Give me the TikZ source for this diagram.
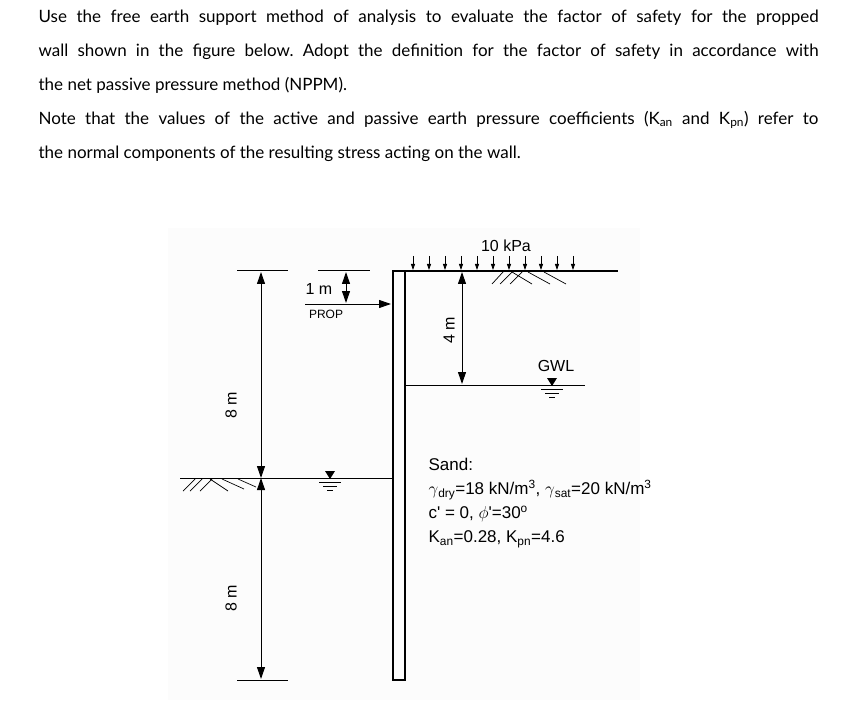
\documentclass[tikz,border=0pt]{standalone}
\usepackage{fontspec}
\setmainfont{Lato}
\newfontfamily\arial{Liberation Sans}
\usetikzlibrary{arrows.meta}
\frenchspacing
\begin{document}
\begin{tikzpicture}[x=1pt,y=-1pt,line width=1.2pt,
  dim/.style={line width=1pt,{Triangle[length=12pt,width=8pt]}-{Triangle[length=12pt,width=8pt]}},
  onearrow/.style={line width=1pt,-{Triangle[length=12pt,width=8pt]}},
  load/.style={line width=0.8pt,-{Triangle[length=6pt,width=4pt]}},
  lbl/.style={font=\arial\fontsize{16}{18}\selectfont,inner sep=0pt},
  hatch/.style={line width=0.7pt}]
\useasboundingbox (0,0) rectangle (867,727);
\fill[black!1] (168,228) rectangle (640,700);
\node[anchor=north west,inner sep=0pt,text width=780pt,align=justify,font=\fontsize{17}{34}\selectfont] (txt) at (38,9)
{Use the free earth support method of analysis to evaluate the factor of safety for the propped\linebreak
wall shown in the figure below. Adopt the definition for the factor of safety in accordance with\linebreak
the net passive pressure method (NPPM).\\
Note that the values of the active and passive earth pressure coefficients (K\textsubscript{an} and K\textsubscript{pn}) refer to\linebreak
the normal components of the resulting stress acting on the wall.};
% wall
\draw (393,271) rectangle (405,680);
% top ground
\coordinate (gt1) at (393,271); \coordinate (gt2) at (618,271);
\draw (gt1) -- (gt2);
\foreach \x in {413,429,...,573} \draw[load] (\x,256) -- (\x,270);
\node[lbl] (kpa) at (506,246) {10 kPa};
\foreach \a/\b in {492/503,500/512,510/522} \draw[hatch] (\a,284) -- (\b,272);
\draw[hatch] (512,272) -- (532,284); \draw[hatch] (528,272) -- (550,284); \draw[hatch] (544,272) -- (566,284);
% 4 m
\coordinate (f1) at (462,272); \coordinate (f2) at (462,384);
\draw[dim] (f1) -- (f2);
\node[lbl,rotate=90] (fm) at (449,330) {4 m};
% GWL right
\coordinate (w1) at (405,385); \coordinate (w2) at (585,385);
\draw[line width=1pt] (w1) -- (w2);
\node[lbl] (gwl) at (556,366) {GWL};
\fill (547,378) -- (557,378) -- (552,386) -- cycle;
\draw[line width=0.8pt] (541,389) -- (563,389) (545,393) -- (559,393) (549,397) -- (555,397);
% excavation level
\coordinate (e1) at (180,478); \coordinate (e2) at (393,478);
\draw[line width=1pt] (e1) -- (e2);
\foreach \a/\b in {183/195,190/202,200/212} \draw[hatch] (\a,491) -- (\b,479);
\draw[hatch] (210,479) -- (228,491); \draw[hatch] (222,479) -- (244,489); \draw[hatch] (238,479) -- (256,487);
\fill (325,471) -- (335,471) -- (330,479) -- cycle;
\draw[line width=0.8pt] (319,482) -- (341,482) (323,486) -- (337,486) (327,490) -- (333,490);
% left dimensions
\draw[line width=1pt] (237,271) -- (288,271) (237,680) -- (288,680);
\coordinate (d1) at (261,272); \coordinate (d2) at (261,478); \coordinate (d3) at (261,679);
\draw[dim] (d1) -- (d2);
\draw[dim] (d2) -- (d3);
\node[lbl,rotate=90] (m1) at (231,405) {8 m};
\node[lbl,rotate=90] (m2) at (231,598) {8 m};
% prop
\draw[line width=1pt] (318,271) -- (370,271);
\coordinate (p1) at (305,304); \coordinate (p2) at (391,304);
\draw[onearrow] (p1) -- (p2);
\coordinate (q1) at (346,272); \coordinate (q2) at (346,303);
\draw[dim] (q1) -- (q2);
\node[lbl] (onem) at (319,289) {1 m};
\node[lbl,font=\arial\fontsize{12}{13}\selectfont] (prop) at (326,314) {PROP};
% sand
\node[anchor=west,inner sep=0pt,align=left,font=\arial\fontsize{17}{24}\selectfont] (sand) at (428,503)
{Sand:\\
$\gamma$\textsubscript{dry}=18 kN/m\textsuperscript{3}, $\gamma$\textsubscript{sat}=20 kN/m\textsuperscript{3}\\
c' = 0, $\phi$'=30\textsuperscript{o}\\
K\textsubscript{an}=0.28, K\textsubscript{pn}=4.6};
\end{tikzpicture}
\end{document}
